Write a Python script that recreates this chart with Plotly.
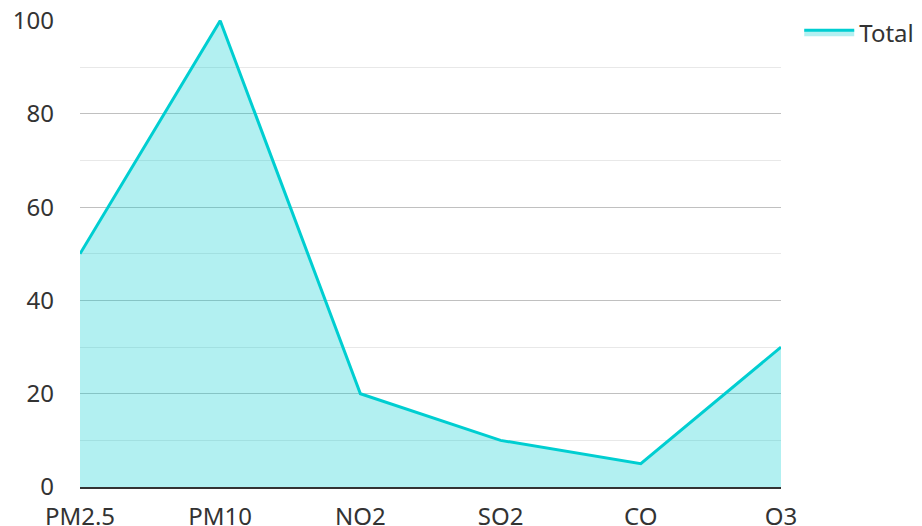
import plotly.graph_objects as go

categories = ["PM2.5", "PM10", "NO2", "SO2", "CO", "O3"]
values = [50, 100, 20, 10, 5, 30]
series_name = "Total"

fig = go.Figure()
fig.add_trace(go.Scatter(
    x=categories, y=values, name=series_name, mode="lines",
    line=dict(color="#00CED1", width=3),
    fill="tozeroy", fillcolor="rgba(0,206,209,0.3)",
))

FS = 24
fig.update_layout(
    width=922, height=526,
    margin=dict(l=72, r=149, t=12, b=47, autoexpand=False),
    paper_bgcolor="white", plot_bgcolor="white",
    font=dict(family="Noto Sans", size=FS, color="#333333"),
    showlegend=True,
    legend=dict(x=1.026, y=1.021, xanchor="left", yanchor="top", itemwidth=50,
                font=dict(size=FS, color="#333333"), bgcolor="rgba(0,0,0,0)"),
    xaxis=dict(range=[0, 5], showgrid=False, showline=True, linecolor="#333333",
               linewidth=2, ticks="", ticklabelstandoff=7, zeroline=False,
               automargin=False, ticklabeloverflow="allow",
               tickfont=dict(size=FS, color="#333333")),
    yaxis=dict(range=[0, 100.15], tick0=0, dtick=20, showgrid=True, gridcolor="#c0c0c0",
               gridwidth=1, zeroline=False, showline=False, ticks="",
               ticklabelstandoff=25, automargin=False, ticklabeloverflow="allow",
               minor=dict(dtick=10, showgrid=True, gridcolor="#e8e8e8", gridwidth=1),
               tickfont=dict(size=FS, color="#333333")),
)

fig.write_html("out.html")
